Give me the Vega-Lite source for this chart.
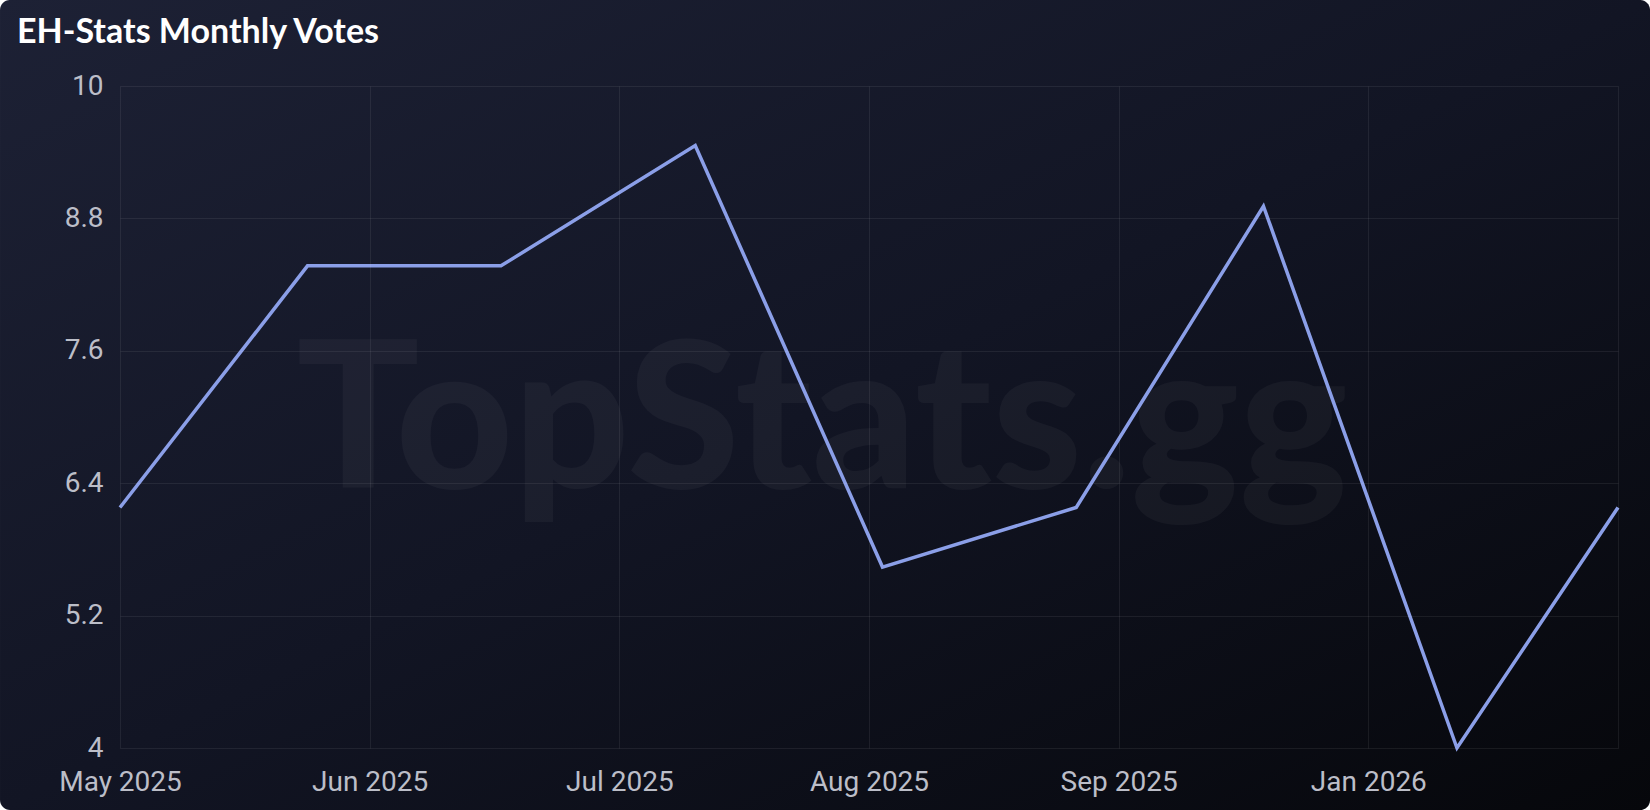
{
  "$schema": "https://vega.github.io/schema/vega-lite/v6.json",
  "width": 1498,
  "height": 662,
  "autosize": {"type": "none"},
  "padding": {"left": 120, "top": 86, "right": 32, "bottom": 62},
  "background": "#ffffff",
  "config": {"view": {"stroke": null}},
  "title": {
    "text": "EH-Stats Monthly Votes",
    "anchor": "start",
    "frame": "group",
    "font": "Lato",
    "fontSize": 34,
    "fontWeight": "bold",
    "color": "#ffffff",
    "baseline": "alphabetic",
    "offset": -77,
    "dx": -103,
    "zindex": 1
  },
  "layer": [
    {
      "data": {"values": [{"card": "background"}]},
      "mark": {
        "type": "rect",
        "cornerRadius": 10,
        "fill": {
          "gradient": "linear",
          "x1": 0, "y1": 0, "x2": 1, "y2": 1,
          "stops": [
            {"offset": 0, "color": "#1d2135"},
            {"offset": 0.5, "color": "#121524"},
            {"offset": 1, "color": "#06070b"}
          ]
        }
      },
      "encoding": {
        "x": {"datum": -0.4806, "type": "quantitative", "scale": {"domain": [0, 6], "nice": false, "zero": false}},
        "x2": {"datum": 6.1282},
        "y": {"datum": 3.4381, "type": "quantitative", "scale": {"domain": [4, 10], "nice": false, "zero": false}},
        "y2": {"datum": 10.7795}
      }
    },
    {
      "data": {"values": [{"watermark": "TopStats.gg"}]},
      "mark": {
        "type": "text",
        "font": "Lato",
        "fontSize": 204,
        "fontWeight": 900,
        "align": "center",
        "baseline": "alphabetic",
        "color": "#ffffff",
        "opacity": 0.034
      },
      "encoding": {
        "text": {"field": "watermark"},
        "x": {"datum": 2.812, "type": "quantitative", "scale": {"domain": [0, 6], "nice": false, "zero": false}},
        "y": {"datum": 6.355, "type": "quantitative", "scale": {"domain": [4, 10], "nice": false, "zero": false}}
      }
    },
    {
      "data": {
        "values": [
          {"pos": 0, "votes": 6.18},
          {"pos": 0.751, "votes": 8.37},
          {"pos": 1.526, "votes": 8.37},
          {"pos": 2.304, "votes": 9.46},
          {"pos": 3.054, "votes": 5.64},
          {"pos": 3.83, "votes": 6.18},
          {"pos": 4.58, "votes": 8.91},
          {"pos": 5.355, "votes": 4.0},
          {"pos": 6, "votes": 6.18}
        ]
      },
      "mark": {"type": "line", "color": "#8b9fe8", "strokeWidth": 3.5, "strokeJoin": "miter"},
      "encoding": {
        "x": {
          "field": "pos",
          "type": "quantitative",
          "scale": {"domain": [0, 6], "nice": false, "zero": false},
          "axis": {
            "title": null,
            "values": [0, 1, 2, 3, 4, 5, 6],
            "labelExpr": "['May 2025','Jun 2025','Jul 2025','Aug 2025','Sep 2025','Jan 2026',''][round(datum.value)]",
            "ticks": false,
            "domain": false,
            "grid": true,
            "gridColor": "#ffffff",
            "gridOpacity": 0.07,
            "labelFont": "Roboto",
            "labelFontSize": 28,
            "labelColor": "#bcbec8",
            "labelBaseline": "alphabetic",
            "labelPadding": 42,
            "labelFlush": false,
            "labelOverlap": false,
            "zindex": 1
          }
        },
        "y": {
          "field": "votes",
          "type": "quantitative",
          "scale": {"domain": [4, 10], "nice": false, "zero": false},
          "axis": {
            "title": null,
            "values": [4, 5.2, 6.4, 7.6, 8.8, 10],
            "labelExpr": "format(datum.value, '~g')",
            "ticks": false,
            "domain": false,
            "grid": true,
            "gridColor": "#ffffff",
            "gridOpacity": 0.07,
            "labelFont": "Roboto",
            "labelFontSize": 28,
            "labelColor": "#bcbec8",
            "labelPadding": 17,
            "labelFlush": false,
            "labelOverlap": false,
            "zindex": 1
          }
        }
      }
    }
  ]
}
